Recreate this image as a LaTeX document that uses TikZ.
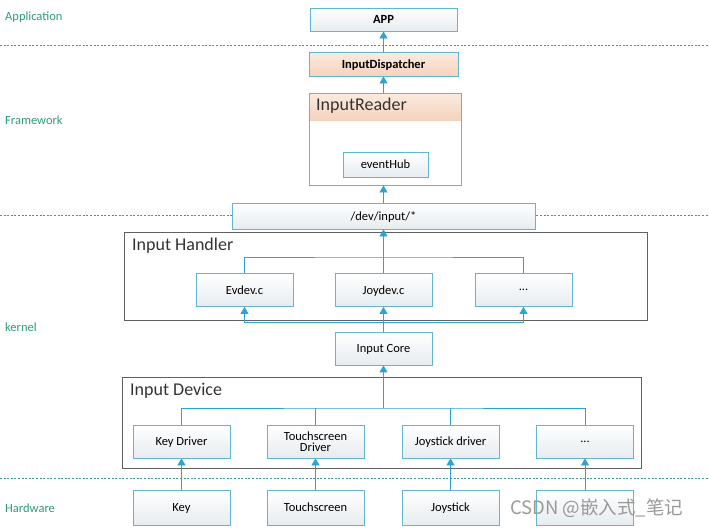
\documentclass[tikz,border=0pt]{standalone}
\usepackage{fontspec}
\setmainfont{Carlito}
\newfontfamily\cjk{Noto Sans CJK SC}
\usetikzlibrary{arrows.meta,positioning}
\definecolor{boxline}{HTML}{62B6CF}
\definecolor{arrowc}{HTML}{2EA3D0}
\definecolor{layerc}{HTML}{2E9A78}
\definecolor{sepc}{HTML}{3A9A8C}
\definecolor{gtop}{HTML}{FFFFFF}
\definecolor{gbot}{HTML}{E6ECF0}
\definecolor{ptop}{HTML}{FCEBDF}
\definecolor{pbot}{HTML}{F4D3BD}
\definecolor{groupc}{HTML}{606060}
\tikzset{
  box/.style={draw=boxline, line width=0.8pt, top color=gtop, bottom color=gbot,
    minimum width=97pt, minimum height=33pt, inner sep=1pt, align=center,
    font=\fontsize{12.5}{12}\selectfont, text depth=0pt},
  pbox/.style={box, top color=ptop, bottom color=pbot},
  group/.style={draw=groupc, line width=0.8pt, fill=white},
  grouplabel/.style={anchor=west, font=\fontsize{18}{18}\selectfont, text=black!80, inner sep=0pt},
  layer/.style={anchor=west, text=layerc, font=\fontsize{12.5}{12}\selectfont, inner sep=0pt},
  sep/.style={draw=sepc, line width=0.7pt, dash pattern=on 2pt off 1.6pt},
  conn/.style={draw=arrowc, line width=0.8pt},
  arr/.style={conn, -{Triangle[width=8pt,length=7pt]}},
}
\begin{document}
\begin{tikzpicture}[x=1pt,y=-1pt]
\useasboundingbox (0,0) rectangle (709,528);
% separators
\draw[sep] (0,45) -- (709,45);
\draw[sep] (0,215) -- (709,215);
\draw[sep] (0,478) -- (709,478);
% layer labels
\node[layer] (lapp) at (5,17) {Application};
\node[layer] (lfw) at (5,120) {Framework};
\node[layer] (lk) at (5,327) {kernel};
\node[layer] (lhw) at (5,508) {Hardware};
% framework
\node[box, minimum width=147pt, minimum height=23pt, font=\bfseries\fontsize{12.5}{12}\selectfont] (app) at (383.5,19.5) {APP};
\node[pbox, minimum width=149pt, minimum height=24pt, font=\bfseries\fontsize{12.5}{12}\selectfont] (disp) at (383.5,64) {InputDispatcher};
\fill[top color=ptop, bottom color=pbot] (309,93) rectangle (461,120);
\node[draw=boxline, line width=0.8pt, minimum width=152pt, minimum height=92pt, inner sep=0pt] (reader) at (385,139) {};
\node[grouplabel] (readerlbl) at (316,106) {InputReader};
\node[box, minimum width=85pt, minimum height=25pt] (hub) at (385.5,164.5) {eventHub};
\node[box, minimum width=303pt, minimum height=26pt] (dev) at (383.5,216) {/dev/input/*};
\draw[arr] (dev.north -| disp.south) -- (reader.south -| disp.south);
\draw[arr] (disp.north) -- (app.south);
\draw[arr] (reader.north -| disp.south) -- (disp.south);
% input handler
\node[group, minimum width=523pt, minimum height=88pt, inner sep=0pt] (handler) at (385.5,276) {};
\node[grouplabel] (handlerlbl) at (132,246) {Input Handler};
\node[box] (ev) at (244.5,290) {Evdev.c};
\node[box] (joy) at (383.5,290) {Joydev.c};
\node[box] (hdots) at (523.5,290) {...};
\coordinate (hbus) at (383.5,257);
\draw[conn] (ev.north) |- (hbus) -| (hdots.north);
\draw[arr] (joy.north) -- (dev.south);
% input core
\node[box] (core) at (383.5,348.5) {Input Core};
\coordinate (cbus) at (383.5,322);
\draw[arr] (core.north) -- (joy.south);
\draw[arr] (cbus) -| (ev.south);
\draw[arr] (cbus) -| (hdots.south);
% input device
\node[group, minimum width=519pt, minimum height=91pt, inner sep=0pt] (device) at (381.5,422.5) {};
\node[grouplabel] (devicelbl) at (130,391) {Input Device};
\node[box] (kd) at (181.5,441.5) {Key Driver};
\node[box, font=\fontsize{12.5}{11.5}\selectfont] (td) at (315.5,441.5) {Touchscreen\\Driver};
\node[box] (jd) at (450.5,441.5) {Joystick driver};
\node[box] (xd) at (585,441.5) {...};
\coordinate (dbus) at (383.5,408);
\draw[conn] (kd.north) |- (dbus) -| (xd.north);
\draw[conn] (td.north) -- (td.north |- dbus);
\draw[conn] (jd.north) -- (jd.north |- dbus);
\draw[arr, line width=1.3pt] (dbus) -- (core.south);
% hardware
\node[box, minimum height=35pt] (key) at (181.5,507.5) {Key};
\node[box, minimum height=35pt] (ts) at (315.5,507.5) {Touchscreen};
\node[box, minimum height=35pt] (js) at (450.5,507.5) {Joystick};
\node[box, minimum height=35pt] (xh) at (585,507.5) {};
\draw[arr] (key.north) -- (kd.south);
\draw[arr] (ts.north) -- (td.south);
\draw[arr] (js.north) -- (jd.south);
\draw[arr] (xh.north) -- (xd.south);
% watermark
\node[anchor=west, inner sep=0pt, text=black!40, font=\cjk\fontsize{18.5}{18}\selectfont] (wm) at (510,508) {CSDN @嵌入式\_笔记};
\end{tikzpicture}
\end{document}
